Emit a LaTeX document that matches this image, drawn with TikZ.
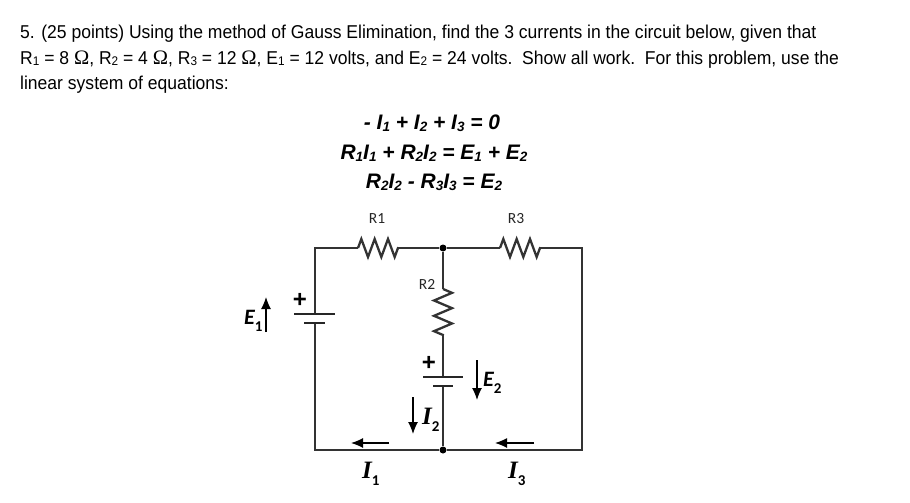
\documentclass[tikz,border=0pt]{standalone}
\usepackage{fontspec}
\setmainfont{Liberation Sans}
\newfontfamily\narrowpart[FakeStretch=0.943]{Liberation Sans}
\newfontfamily\serifpart{Liberation Serif}
\newfontfamily\labelpart{Carlito}
\usetikzlibrary{arrows.meta,decorations.pathmorphing}
\newcommand{\sub}[1]{\raisebox{-0.08em}{\fontsize{12.5}{12.5}\selectfont #1}}
\newcommand{\eqsub}[1]{\raisebox{-0.1em}{\fontsize{13.5}{13.5}\selectfont #1}}
\newcommand{\lowsub}[1]{\raisebox{-7pt}{\fontsize{15}{15}\selectfont\labelpart\bfseries\upshape #1}}
\newcommand{\ohm}{{\fontsize{20.5}{22}\selectfont\serifpart Ω}}
\tikzset{
	wire/.style={line width=2.3pt, draw=black!80},
	plate/.style={line width=2.5pt, draw=black!85},
	zig/.style={wire, decorate, decoration={zigzag, amplitude=9, segment length=#1}},
	arr/.style={line width=1.2pt, -{Latex[length=12,width=10]}},
	dot/.style={circle, fill=black, inner sep=0pt, minimum size=7},
	textline/.style={anchor=base west, inner sep=0pt, font=\fontsize{18.6}{22}\selectfont\narrowpart},
	eqline/.style={inner sep=0pt, anchor=base, font=\fontsize{21}{24}\selectfont\bfseries\itshape},
	rlabel/.style={inner sep=0pt, font=\fontsize{15.5}{16}\selectfont\labelpart\color{black!85}},
	elabel/.style={anchor=base west, inner sep=0pt, font=\fontsize{22}{24}\selectfont\labelpart\bfseries\itshape},
	ilabel/.style={anchor=base west, inner sep=0pt, font=\fontsize{25}{26}\selectfont\serifpart\bfseries\itshape},
	plus/.style={inner sep=0pt, font=\fontsize{24}{24}\selectfont\bfseries}
}
\begin{document}
\begin{tikzpicture}[x=1pt, y=-1pt]
	\useasboundingbox (0,0) rectangle (910,503);

	% problem text
	\node[textline] (line1) at (20,39) {5. (25 points) Using the method of Gauss Elimination, find the 3 currents in the circuit below, given that};
	\node[textline] (line2) at (20,64) {R\sub{1} = 8 \ohm, R\sub{2} = 4 \ohm, R\sub{3} = 12 \ohm, E\sub{1} = 12 volts, and E\sub{2} = 24 volts.\, Show all work.\, For this problem, use the};
	\node[textline] (line3) at (20,89) {linear system of equations:};

	% equations
	\node[eqline] (eq1) at (432,129) {- I\eqsub{1} + I\eqsub{2} + I\eqsub{3} = 0};
	\node[eqline] (eq2) at (434,159) {R\eqsub{1}I\eqsub{1} + R\eqsub{2}I\eqsub{2} = E\eqsub{1} + E\eqsub{2}};
	\node[eqline] (eq3) at (434,188) {R\eqsub{2}I\eqsub{2} - R\eqsub{3}I\eqsub{3} = E\eqsub{2}};

	% corners and junctions
	\coordinate (tl) at (315,248);
	\coordinate (tr) at (582,248);
	\coordinate (bl) at (315,450);
	\coordinate (br) at (582,450);
	\node[dot] (jt) at (443,248) {};
	\node[dot] (jb) at (443,450) {};

	% resistor ends
	\coordinate (r1a) at (358,248);
	\coordinate (r1b) at (398,248);
	\coordinate (r3a) at (500,248);
	\coordinate (r3b) at (540,248);
	\coordinate (r2a) at (443,289);
	\coordinate (r2b) at (443,335);

	% battery plates
	\coordinate (e1a) at (294,314);
	\coordinate (e1b) at (335,314);
	\coordinate (e1c) at (304,323);
	\coordinate (e1d) at (325,323);
	\coordinate (e1top) at (315,314);
	\coordinate (e1bot) at (315,323);
	\coordinate (e2a) at (423,377);
	\coordinate (e2b) at (463,377);
	\coordinate (e2c) at (433,386);
	\coordinate (e2d) at (453,386);
	\coordinate (e2top) at (443,377);
	\coordinate (e2bot) at (443,386);

	% wires
	\draw[wire] (e1top) -- (tl) -- (r1a);
	\draw[wire] (r1b) -- (jt) -- (r3a);
	\draw[wire] (r3b) -- (tr) -- (br) -- (jb) -- (bl) -- (e1bot);
	\draw[wire] (jt) -- (r2a);
	\draw[wire] (r2b) -- (e2top);
	\draw[wire] (e2bot) -- (jb);
	\draw[zig=13.33] (r1a) -- (r1b);
	\draw[zig=13.33] (r3a) -- (r3b);
	\draw[zig=15.33] (r2a) -- (r2b);
	\draw[plate] (e1a) -- (e1b);
	\draw[plate] (e1c) -- (e1d);
	\draw[plate] (e2a) -- (e2b);
	\draw[plate] (e2c) -- (e2d);

	\node[plus] (plus1) at (300,300) {+};
	\node[plus] (plus2) at (429,363) {+};

	% labels
	\node[rlabel] (lr1) at (377,219) {R1};
	\node[rlabel] (lr2) at (427,284) {R2};
	\node[rlabel] (lr3) at (516,219) {R3};
	\node[elabel] (le1) at (244,324) {E\lowsub{1}};
	\node[elabel] (le2) at (483,386) {E\lowsub{2}};
	\node[ilabel] (li1) at (362,478) {I\lowsub{1}};
	\node[ilabel] (li2) at (422,424) {I\lowsub{2}};
	\node[ilabel] (li3) at (508,478) {I\lowsub{3}};

	% current and source arrows
	\coordinate (a1a) at (389,443);
	\coordinate (a1b) at (351,443);
	\coordinate (a2a) at (413,397);
	\coordinate (a2b) at (413,434);
	\coordinate (a3a) at (534,443);
	\coordinate (a3b) at (495,443);
	\coordinate (a4a) at (266,332);
	\coordinate (a4b) at (266,297);
	\coordinate (a5a) at (477,360);
	\coordinate (a5b) at (477,400);
	\draw[arr] (a1a) -- (a1b);
	\draw[arr] (a2a) -- (a2b);
	\draw[arr] (a3a) -- (a3b);
	\draw[arr] (a4a) -- (a4b);
	\draw[arr] (a5a) -- (a5b);
\end{tikzpicture}
\end{document}
